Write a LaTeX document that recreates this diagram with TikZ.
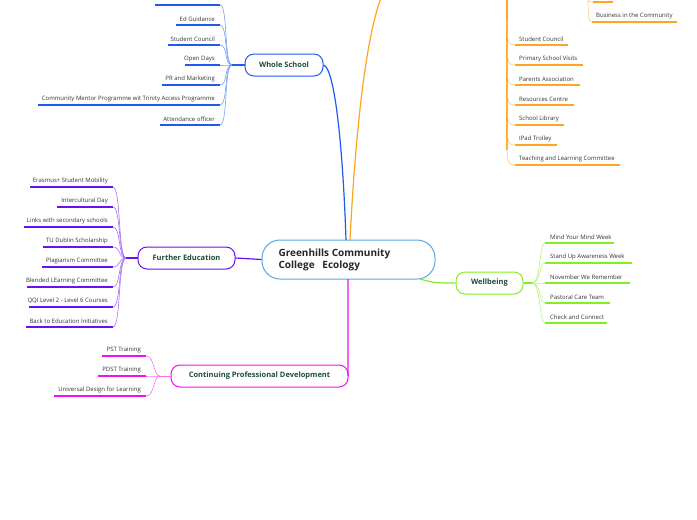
\documentclass[tikz,border=0pt]{standalone}
\usepackage{fontspec}
\setmainfont{Open Sans}
\definecolor{ws}{HTML}{1F5AF0}
\definecolor{or}{HTML}{FFA51F}
\definecolor{wb}{HTML}{80F020}
\definecolor{fe}{HTML}{6A10F0}
\definecolor{cp}{HTML}{F010F0}
\definecolor{tx}{HTML}{1E4D3B}
\definecolor{cb}{HTML}{5AA8E0}
\begin{document}
\begin{tikzpicture}[x=1pt,y=-1pt,
  main/.style={draw=#1,line width=1pt,rounded corners=9pt,minimum height=22pt,text=tx,font=\fontsize{7.5}{9}\selectfont\bfseries,fill=white},
  leaf/.style={font=\fontsize{6}{7}\selectfont,text=black!80,inner sep=1pt},
  ul/.style={draw=#1,line width=1.4pt},
  cn/.style={draw=#1!60,line width=0.6pt},
  br/.style={draw=#1,line width=1.2pt}]
\useasboundingbox (0,0) rectangle (697,520);
% central
\node[draw=cb,line width=1pt,rounded corners=18pt,minimum width=173pt,minimum height=39pt,fill=white] (c) at (348.5,259.5) {};
\node[anchor=west,align=left,font=\fontsize{10}{12.5}\selectfont\bfseries,text=black!85] (ct) at (275,260) {Greenhills Community\\College\ \ \ Ecology};
% main branches
\node[main=ws,minimum width=78pt] (ws) at (284,65) {Whole School};
\node[main=wb,minimum width=67pt] (wb) at (489.5,283) {Wellbeing};
\node[main=fe,minimum width=97pt] (fe) at (186.5,258) {Further Education};
\node[main=cp,minimum width=177pt] (cp) at (259.5,376) {Continuing Professional Development};
\draw[br=ws] (346,240) .. controls (343,150) and (335,68) .. (ws.east);
\draw[br=or] (350,240) .. controls (355,140) and (365,40) .. (381,-2);
\draw[br=wb] (420,279) .. controls (435,283) .. (wb.west);
\draw[br=fe] (c.west) -- (fe.east);
\draw[br=cp] (348,279) -- (348,368) .. controls (348,376) .. (cp.east);
% Whole School children
\coordinate (wsb) at (232,65);
\draw[br=ws] (ws.west) -- (wsb);
\foreach \n/\t/\y/\l in {w0//5/155,w1/Ed Guidance/25/176,w2/Student Council/45/168,w3/Open Days/65/185,w4/PR and Marketing/85/162,w5/Community Mentor Programme wit Trinity Access Programme/105/38,w6/Attendance officer/125/160}{
  \coordinate (\n e) at (220,\y); \coordinate (\n s) at (\l,\y);
  \node[leaf,anchor=south east] (\n) at (216,\y-2) {\t};
  \draw[ul=ws] (\n s) -- (\n e);
  \draw[cn=ws] (wsb) .. controls (224,65) and (228,\y) .. (\n e);
}
% Orange top section
\coordinate (ot) at (507,-2);
\draw[br=or,line width=1.6pt] (ot) -- (507,150);
\foreach \n/\t/\y/\r in {o1/Student Council/45/568,o2/Primary School Visits/65/583,o3/Parents Association/85/580,o4/Resources Centre/105/574,o5/School Library/125/564,o6/IPad Trolley/145/557,o7/Teaching and Learning Committee/165/620}{
  \coordinate (\n s) at (515,\y); \coordinate (\n e) at (\r,\y);
  \node[leaf,anchor=south west] (\n) at (518,\y-2) {\t};
  \draw[ul=or] (\n s) -- (\n e);
  \draw[cn=or] (507,\y-25) .. controls (507,\y) and (509,\y) .. (\n s);
}
\coordinate (o8top) at (588,-2);
\coordinate (o8a) at (593,2); \coordinate (o8b) at (613,2);
\draw[ul=or] (o8a) -- (o8b);
\coordinate (o9s) at (592,22); \coordinate (o9e) at (677,22);
\node[leaf,anchor=south west] (o9) at (595,20) {Business in the Community};
\draw[ul=or] (o9s) -- (o9e);
\draw[cn=or] (o8top) .. controls (588,18) and (589,22) .. (o9s);
\draw[cn=or] (o8top) .. controls (589,2) .. (o8a);
% Wellbeing children
\coordinate (wbb) at (532,283);
\draw[br=wb] (wb.east) -- (wbb);
\foreach \n/\t/\y/\r in {b1/Mind Your Mind Week/243/614,b2/Stand Up Awareness Week/263/632,b3/November We Remember/283/630,b4/Pastoral Care Team/303/610,b5/Check and Connect/323/607}{
  \coordinate (\n s) at (545,\y); \coordinate (\n e) at (\r,\y);
  \node[leaf,anchor=south west] (\n) at (549,\y-2) {\t};
  \draw[ul=wb] (\n s) -- (\n e);
  \draw[cn=wb] (wbb) .. controls (541,283) and (539,\y) .. (\n s);
}
% Further Education children
\coordinate (feb) at (126,258);
\draw[br=fe] (fe.west) -- (feb);
\foreach \n/\t/\y/\l in {f1/Erasmus+ Student Mobility/187/30,f2/Intercultural Day/207/57,f3/Links with secondary schools/227/24,f4/TU Dublin Scholarship/247/43,f5/Plagiarism Committee/267/42,f6/Blended LEarning Committee/287/27,f7/QQI Level 2 - Level 6 Courses/307/29,f8/Back to Education Initiatives/327/26}{
  \coordinate (\n e) at (113,\y); \coordinate (\n s) at (\l,\y);
  \node[leaf,anchor=south east] (\n) at (109,\y-2) {\t};
  \draw[ul=fe] (\n s) -- (\n e);
  \draw[cn=fe] (feb) .. controls (118,258) and (121,\y) .. (\n e);
}
% CPD children
\coordinate (cpb) at (160,376);
\draw[cn=cp] (cp.west) -- (cpb);
\foreach \n/\t/\y/\l in {p1/PST Training/356/102,p2/PDST Training/376/98,p3/Universal Design for Learning/396/54}{
  \coordinate (\n e) at (146,\y); \coordinate (\n s) at (\l,\y);
  \node[leaf,anchor=south east] (\n) at (142,\y-2) {\t};
  \draw[ul=cp] (\n s) -- (\n e);
  \draw[cn=cp] (cpb) .. controls (153,376) and (155,\y) .. (\n e);
}
\end{tikzpicture}
\end{document}
